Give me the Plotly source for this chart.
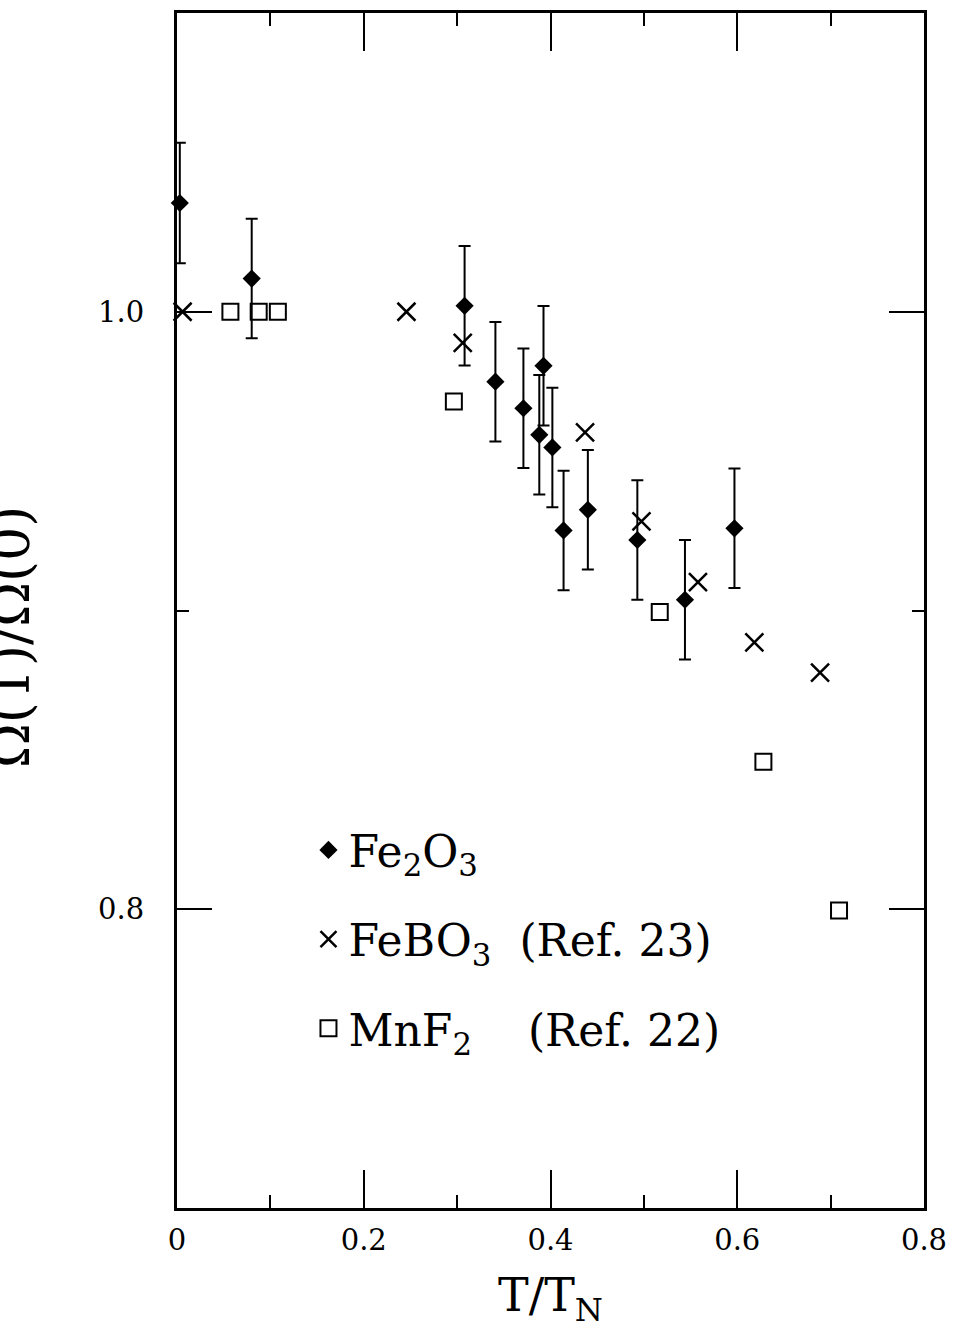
import plotly.graph_objects as go

# Fe2O3 data (diamonds with error bars)
fe2o3_x = [0.003, 0.080, 0.308, 0.341, 0.371, 0.3925, 0.388, 0.402, 0.414, 0.440, 0.493, 0.544, 0.597]
fe2o3_y = [1.0364, 1.0111, 1.0020, 0.9766, 0.9677, 0.9819, 0.9588, 0.9546, 0.9268, 0.9337, 0.9236, 0.9036, 0.9275]
fe2o3_err = [0.0202, 0.0200, 0.0200, 0.0200, 0.0200, 0.0200, 0.0200, 0.0200, 0.0200, 0.0200, 0.0200, 0.0200, 0.0200]

# FeBO3 (Ref. 23)
febo3_x = [0.006, 0.2457, 0.306, 0.437, 0.4974, 0.5579, 0.6183, 0.6887]
febo3_y = [1.0000, 1.0000, 0.9896, 0.9596, 0.9298, 0.9095, 0.8893, 0.8792]

# MnF2 (Ref. 22)
mnf2_x = [0.0572, 0.0875, 0.108, 0.2965, 0.517, 0.628, 0.709]
mnf2_y = [1.0000, 1.0000, 1.0000, 0.9700, 0.8995, 0.8494, 0.7996]

x_ticks = [0, 0.2, 0.4, 0.6, 0.8]
x_ticklabels = ["0", "0.2", "0.4", "0.6", "0.8"]
y_ticks = [0.8, 1.0]
y_ticklabels = ["0.8", "1.0"]

FONT = "DejaVu Serif"

fig = go.Figure()

fig.add_trace(go.Scatter(
    x=fe2o3_x, y=fe2o3_y, mode="markers",
    name="Fe<sub>2</sub>O<sub>3</sub>", legendgroup="a",
    marker=dict(symbol="diamond", size=14, color="black"),
    error_y=dict(type="data", array=fe2o3_err, visible=True,
                 color="black", thickness=2, width=6),
    cliponaxis=False,
))
fig.add_trace(go.Scatter(
    x=febo3_x, y=febo3_y, mode="markers",
    name="FeBO<sub>3</sub>  (Ref. 23)", legendgroup="b",
    marker=dict(symbol="x-thin-open", size=18, color="black",
                line=dict(width=2.5, color="black")),
    cliponaxis=False,
))
fig.add_trace(go.Scatter(
    x=mnf2_x, y=mnf2_y, mode="markers",
    name="MnF<sub>2</sub>&nbsp;&nbsp;&nbsp; (Ref. 22)", legendgroup="c",
    marker=dict(symbol="square-open", size=16, color="black",
                line=dict(width=2, color="black")),
    cliponaxis=False,
))

fig.update_layout(
    width=957, height=1333,
    margin=dict(l=177, r=30, t=10, b=125),
    paper_bgcolor="white", plot_bgcolor="white",
    font=dict(family=FONT, color="black"),
    showlegend=True,
    legend=dict(x=0.176, y=0.329, xanchor="left", yanchor="top",
                font=dict(family=FONT, size=44, color="black"),
                bgcolor="rgba(0,0,0,0)", tracegroupgap=29,
                itemclick=False, itemdoubleclick=False),
    xaxis=dict(
        range=[0, 0.8], tickvals=x_ticks, ticktext=x_ticklabels,
        ticks="inside", ticklen=38, tickwidth=2, tickcolor="black",
        minor=dict(dtick=0.1, tick0=0, ticks="inside", ticklen=13, tickwidth=2, tickcolor="black"),
        showline=True, linewidth=3, linecolor="black", mirror="allticks",
        showgrid=False, zeroline=False, ticklabelstandoff=4,
        tickfont=dict(family=FONT, size=29, color="black"),
        title=dict(text="T/T<sub>N</sub>", font=dict(family=FONT, size=46, color="black"), standoff=24),
    ),
    yaxis=dict(
        range=[0.7, 1.1], tickvals=y_ticks, ticktext=y_ticklabels,
        ticks="inside", ticklen=35, tickwidth=2, tickcolor="black",
        minor=dict(dtick=0.1, tick0=0.7, ticks="inside", ticklen=12, tickwidth=2, tickcolor="black"),
        showline=True, linewidth=3, linecolor="black", mirror="allticks",
        showgrid=False, zeroline=False, ticklabelstandoff=24,
        tickfont=dict(family=FONT, size=29, color="black"),
    ),
    annotations=[dict(
        text="Ω(T)/Ω(0)", xref="paper", yref="paper",
        x=-0.222, y=0.478, xanchor="center", yanchor="middle",
        textangle=-90, showarrow=False,
        font=dict(family=FONT, size=54, color="black"),
    )],
)

fig.write_html("out.html")
